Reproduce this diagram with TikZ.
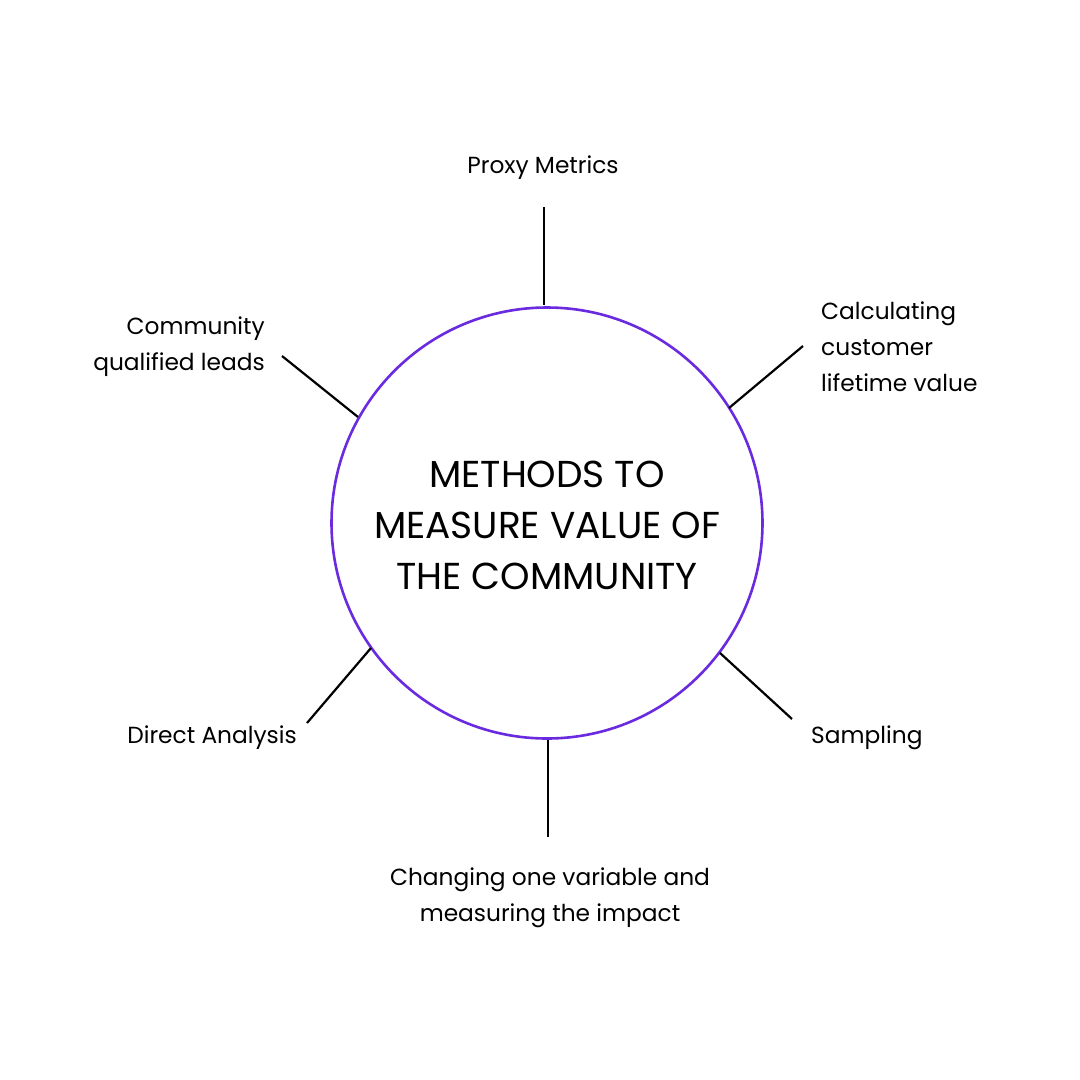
\documentclass[tikz,border=0pt]{standalone}
\usepackage{fontspec}
\setmainfont{Poppins}
\begin{document}
\begin{tikzpicture}[x=1pt,y=-1pt,
  lbl/.style={font=\fontsize{23.3}{36}\selectfont, inner sep=0pt},
  conn/.style={line width=2.2pt, black}]
\useasboundingbox (0,0) rectangle (1080,1080);
\fill[white] (0,0) rectangle (1080,1080);
\node[circle, draw={rgb,255:red,106;green,43;blue,224}, line width=2.6pt, minimum size=431pt, inner sep=0pt] (c) at (547,523) {};
\node[lbl, align=center, font=\fontsize{37.5}{51}\selectfont] (t) at (547,525) {METHODS TO\\MEASURE VALUE OF\\THE COMMUNITY};
\coordinate (a1) at (544,207); \coordinate (a2) at (544,305);
\coordinate (b1) at (803,346); \coordinate (b2) at (729,408);
\coordinate (d1) at (282,356); \coordinate (d2) at (358,417);
\coordinate (e1) at (307,723); \coordinate (e2) at (371,648);
\coordinate (f1) at (792,719); \coordinate (f2) at (720,653);
\coordinate (g1) at (548,837); \coordinate (g2) at (548,740);
\draw[conn] (a1)--(a2); \draw[conn] (b1)--(b2); \draw[conn] (d1)--(d2);
\draw[conn] (e1)--(e2); \draw[conn] (f1)--(f2); \draw[conn] (g1)--(g2);
\node[lbl] (pa) at (543,168) {Proxy Metrics};
\node[lbl, align=left, anchor=west] (pb) at (821,347) {Calculating\\customer\\lifetime value};
\node[lbl, align=right, anchor=east] (pd) at (265,347) {Community\\qualified leads};
\node[lbl, anchor=east] (pe) at (297,738) {Direct Analysis};
\node[lbl, anchor=west] (pf) at (811,738) {Sampling};
\node[lbl, align=center] (pg) at (550,898) {Changing one variable and\\measuring the impact};
\end{tikzpicture}
\end{document}
